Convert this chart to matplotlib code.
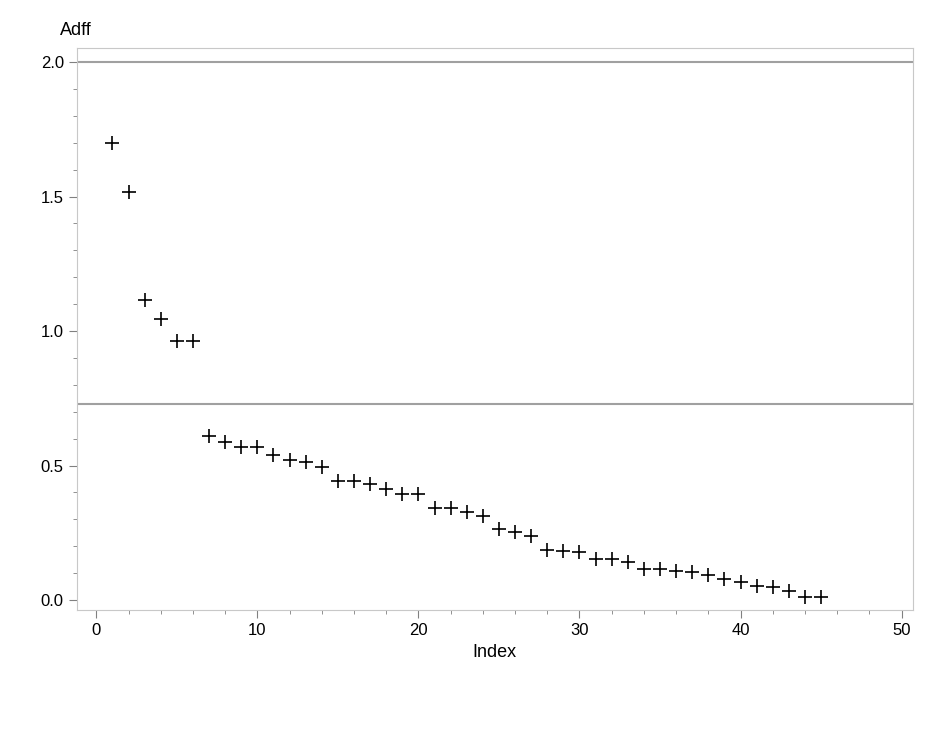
import matplotlib.pyplot as plt
from matplotlib.ticker import MultipleLocator

index = list(range(1, 46))
adff = [1.70, 1.517, 1.115, 1.045, 0.963, 0.963, 0.61, 0.587, 0.569, 0.569,
        0.539, 0.52, 0.513, 0.494, 0.442, 0.442, 0.431, 0.413, 0.394, 0.394,
        0.342, 0.342, 0.327, 0.312, 0.264, 0.253, 0.238, 0.186, 0.182, 0.178,
        0.152, 0.152, 0.141, 0.115, 0.115, 0.108, 0.104, 0.093, 0.078, 0.067,
        0.052, 0.048, 0.033, 0.011, 0.011]
ref_lines = [2.0, 0.729]

plt.rcParams['font.family'] = ['Liberation Sans', 'DejaVu Sans']
fig = plt.figure(figsize=(9.34, 7.35), dpi=100)
ax = fig.add_axes([0.0824, 0.170, 0.895, 0.765])

ax.scatter(index, adff, marker='+', s=90, color='black', linewidths=1.2, zorder=3)
for v in ref_lines:
    ax.axhline(v, color='#a0a0a0', linewidth=1.5, zorder=2)

ax.set_xlim(-1.2, 50.7)
ax.set_ylim(-0.037, 2.053)
ax.xaxis.set_major_locator(MultipleLocator(10))
ax.xaxis.set_minor_locator(MultipleLocator(2))
ax.yaxis.set_major_locator(MultipleLocator(0.5))
ax.yaxis.set_minor_locator(MultipleLocator(0.1))
ax.yaxis.set_major_formatter(plt.FuncFormatter(lambda v, p: f'{v:.1f}'))
ax.tick_params(which='both', color='#808080', labelsize=12)
ax.tick_params(which='major', length=6)
ax.tick_params(which='minor', length=3)
for s in ax.spines.values():
    s.set_color('#c8c8c8')

ax.set_xlabel('Index', fontsize=13)
ax.text(-0.02, 1.015, 'Adff', transform=ax.transAxes, fontsize=13, ha='left', va='bottom')

fig.savefig('out.png')
